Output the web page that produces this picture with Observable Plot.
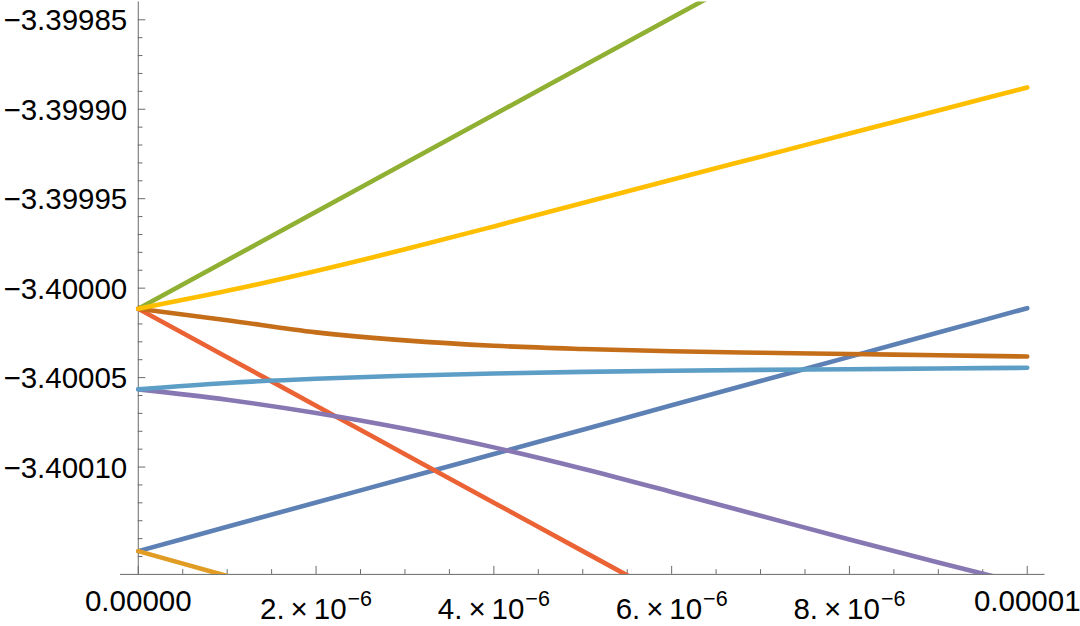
<!DOCTYPE html>
<html><head><meta charset="utf-8">
<script src="https://cdn.jsdelivr.net/npm/d3@7"></script>
<script src="https://cdn.jsdelivr.net/npm/@observablehq/plot@0.6"></script>
<style>body{margin:0;background:#fff;}</style>
</head><body><div id="chart"></div>
<script>
// ---- data ----
const xs = [0, 1e-6, 2e-6, 3e-6, 4e-6, 5e-6, 6e-6, 7e-6, 8e-6, 9e-6, 1e-5];
const seriesNames = ["s1", "s2", "s3", "s4", "s5", "s6", "s7", "s8"];
const seriesColors = ["#5E81B5", "#E19C24", "#8FB032", "#EB6235", "#8778B3", "#C56E1A", "#5D9EC7", "#FFBF00"];
const s1 = [-3.4001470, -3.4001334, -3.4001198, -3.4001063, -3.4000927, -3.4000791, -3.4000655, -3.4000519, -3.4000384, -3.4000248, -3.4000112];
const s2 = [-3.4001470, -3.4001609, -3.4001748, -3.4001887, -3.4002026, -3.4002165, -3.4002304, -3.4002443, -3.4002582, -3.4002721, -3.4002860];
const s3 = [-3.4000115, -3.3999844, -3.3999573, -3.3999302, -3.3999031, -3.3998760, -3.3998489, -3.3998218, -3.3997947, -3.3997676, -3.3997405];
const s4 = [-3.4000115, -3.4000386, -3.4000657, -3.4000928, -3.4001199, -3.4001470, -3.4001741, -3.4002012, -3.4002283, -3.4002554, -3.4002825];
const s5 = [-3.4000566, -3.4000624, -3.4000698, -3.4000786, -3.4000890, -3.4001009, -3.4001139, -3.4001272, -3.4001405, -3.4001534, -3.4001658];
const s6 = [-3.4000115, -3.4000179, -3.4000247, -3.4000292, -3.4000322, -3.4000340, -3.4000353, -3.4000361, -3.4000368, -3.4000375, -3.4000382];
const s7 = [-3.4000566, -3.4000530, -3.4000506, -3.4000490, -3.4000477, -3.4000468, -3.4000462, -3.4000457, -3.4000453, -3.4000449, -3.4000445];
const s8 = [-3.4000115, -3.4000015, -3.3999904, -3.3999783, -3.3999655, -3.3999524, -3.3999394, -3.3999265, -3.3999136, -3.3999007, -3.3998878];
const seriesValues = [s1, s2, s3, s4, s5, s6, s7, s8];

const yMajorTicks = [-3.39985, -3.39990, -3.39995, -3.40000, -3.40005, -3.40010];
const yTickLabels = ["\u22123.39985", "\u22123.39990", "\u22123.39995", "\u22123.40000", "\u22123.40005", "\u22123.40010"];
const xMajorTicks = [0, 2e-6, 4e-6, 6e-6, 8e-6, 1e-5];
const xTickLabels = ["0.00000", "2.\u2009\u00d7\u200910^\u22126", "4.\u2009\u00d7\u200910^\u22126", "6.\u2009\u00d7\u200910^\u22126", "8.\u2009\u00d7\u200910^\u22126", "0.00001"];

// ---- layout ----
const W = 1080, H = 626;
const xDomain = [-0.2e-6, 10.2e-6];
const yDomain = [-3.40016, -3.39984];
const mL = 120, mR = 35.5, mT = 1.4, mB = 52.1;
const kx = (xDomain[1] - xDomain[0]) / (W - mL - mR);
const ky = (yDomain[1] - yDomain[0]) / (H - mT - mB);
const axisColor = "#6a6a6a";
const yMinorTicks = d3.range(0, 31).map(i => -3.40015 + i * 1e-5).filter(v => !yMajorTicks.some(m => Math.abs(m - v) < 1e-9));
const xMinorTicks = d3.range(1, 21).map(i => i * 0.5e-6).filter(v => !xMajorTicks.some(m => Math.abs(m - v) < 1e-12));

const rows = seriesNames.flatMap((name, k) => xs.map((x, i) => ({x, y: seriesValues[k][i], name})));
const isSup = (d, i) => xTickLabels[i].includes("^");

const chart = Plot.plot({
  width: W, height: H,
  marginLeft: mL, marginRight: mR, marginTop: mT, marginBottom: mB,
  x: {domain: xDomain, axis: null},
  y: {domain: yDomain, axis: null},
  color: {domain: seriesNames, range: seriesColors},
  style: {fontFamily: "'Liberation Sans', Arial, sans-serif", background: "#fff", overflow: "visible"},
  marks: [
    Plot.ruleX([0], {stroke: axisColor, strokeWidth: 1}),
    Plot.ruleY([yDomain[0]], {stroke: axisColor, strokeWidth: 1}),
    Plot.ruleY(yMajorTicks, {x1: 0, x2: 7.5 * kx, stroke: axisColor}),
    Plot.ruleY(yMinorTicks, {x1: 0, x2: 4.7 * kx, stroke: axisColor}),
    Plot.ruleX(xMajorTicks, {y1: yDomain[0], y2: yDomain[0] + 8 * ky, stroke: axisColor}),
    Plot.ruleX(xMinorTicks, {y1: yDomain[0], y2: yDomain[0] + 4.7 * ky, stroke: axisColor}),
    Plot.line(rows, {x: "x", y: "y", z: "name", stroke: "name", strokeWidth: 4.6, curve: "monotone-x", clip: true}),
    Plot.text(yMajorTicks, {x: 0, y: d => d, text: (d, i) => yTickLabels[i], textAnchor: "end", lineAnchor: "middle", dx: -11, dy: 1, fontSize: 29.5, fill: "#000"}),
    Plot.text(xMajorTicks, {filter: (d, i) => !isSup(d, i), x: d => d, y: yDomain[0], text: (d, i) => xTickLabels[i], lineAnchor: "bottom", dy: 37, fontSize: 29.5, fill: "#000"}),
    Plot.text(xMajorTicks, {filter: isSup, x: d => d, y: yDomain[0], text: (d, i) => xTickLabels[i], lineAnchor: "bottom", dy: 44.4, fontSize: 29.5, fill: "#000"})
  ]
});

d3.select(chart).selectAll("text").each(function () {
  const t = this.textContent;
  if (t.includes("^")) {
    const [base, sup] = t.split("^");
    const el = d3.select(this);
    el.text(null);
    el.append("tspan").text(base);
    el.append("tspan").attr("dx", 1).attr("dy", -13.3).attr("font-size", 21.5).text(sup);
  }
});

document.getElementById("chart").appendChild(chart);
</script>
</body></html>
